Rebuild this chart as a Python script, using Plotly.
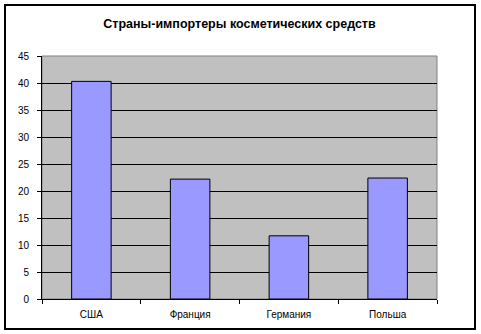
import plotly.graph_objects as go

categories = ["США", "Франция", "Германия", "Польша"]
values = [40.3, 22.2, 11.7, 22.4]
y_ticks = [0, 5, 10, 15, 20, 25, 30, 35, 40, 45]

W, H = 481, 334
L, R, T, B = 42, 437, 56, 299

fig = go.Figure(go.Bar(
    x=categories, y=values,
    marker=dict(color="#9999FF", line=dict(color="black", width=1)),
    width=0.4,
))

def px_x(p):
    return (p - L) / (R - L)

def px_y(p):
    return (B - p) / (B - T)

fig.update_layout(
    width=W, height=H,
    margin=dict(l=L, r=W - R, t=T, b=H - B, pad=0),
    paper_bgcolor="white",
    plot_bgcolor="#C0C0C0",
    font=dict(family="Liberation Sans, Arial, sans-serif", size=10, color="black"),
    title=dict(text="<b>Страны-импортеры косметических средств</b>",
               x=0.5, xanchor="center", xref="paper",
               y=1 - 24 / H, yanchor="middle",
               font=dict(size=12.5)),
    showlegend=False,
    bargap=0.6,
    xaxis=dict(
        showline=True, linecolor="black", linewidth=1,
        ticks="outside", ticklen=4, tickcolor="black",
        tickson="boundaries", showgrid=False,
        range=[-0.5, 3.5], fixedrange=True,
        ticklabelstandoff=6,
    ),
    yaxis=dict(
        range=[0, 45], tickvals=y_ticks,
        showline=True, linecolor="black", linewidth=1,
        ticks="outside", ticklen=4, tickcolor="black",
        showgrid=True, gridcolor="black", gridwidth=1,
        zeroline=False,
        ticklabelstandoff=6,
    ),
    shapes=[
        dict(type="rect", xref="paper", yref="paper", x0=0, x1=1, y0=0, y1=1,
             line=dict(color="#808080", width=1), layer="below"),
        dict(type="rect", xref="paper", yref="paper",
             x0=px_x(5), x1=px_x(475), y0=px_y(329), y1=px_y(5),
             line=dict(color="black", width=2), fillcolor="rgba(0,0,0,0)"),
    ],
)

fig.write_html("out.html")
